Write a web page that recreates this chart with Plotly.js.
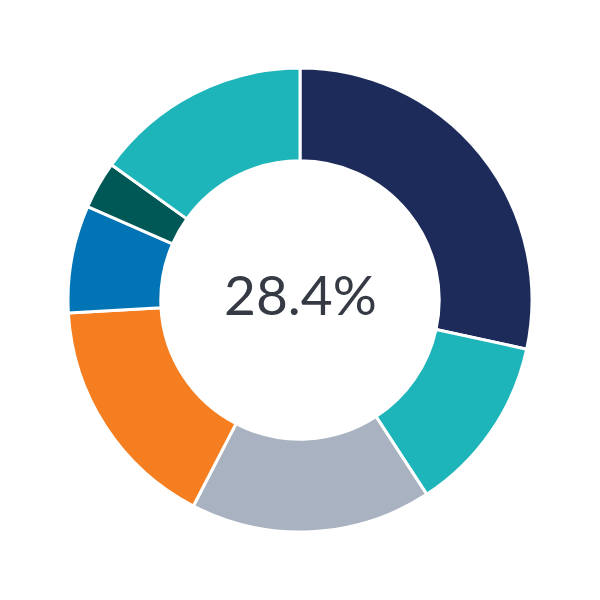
<!DOCTYPE html>
<html><head><meta charset="utf-8">
<script src="https://cdn.plot.ly/plotly-3.0.1.min.js"></script>
<style>html,body{margin:0;padding:0;background:#fff}</style>
</head><body>
<div id="chart" style="width:600px;height:600px"></div>
<script>
const labels = ["A", "B", "C", "D", "E", "F", "G"];
const values = [28.4, 12.4, 16.8, 16.5, 7.5, 3.3, 15.1];
const colors = ["#1c2b5a", "#1db5b9", "#a9b2c0", "#f47e20", "#0074b5", "#005856", "#1db5b9"];
const centerLabel = "28.4%";

Plotly.newPlot("chart", [{
  type: "pie",
  labels: labels,
  values: values,
  hole: 0.6,
  sort: false,
  direction: "clockwise",
  rotation: 0,
  textinfo: "none",
  hoverinfo: "none",
  marker: {colors: colors, line: {color: "#ffffff", width: 3}}
}], {
  width: 600, height: 600,
  margin: {l: 68, r: 68, t: 68, b: 68},
  showlegend: false,
  paper_bgcolor: "#ffffff",
  annotations: [{
    text: centerLabel, x: 0.5, y: 0.5, xref: "paper", yref: "paper", yshift: 6,
    showarrow: false, font: {family: "Lato", size: 55, color: "#353a45"}
  }]
}, {staticPlot: true, displayModeBar: false});
</script>
</body></html>
